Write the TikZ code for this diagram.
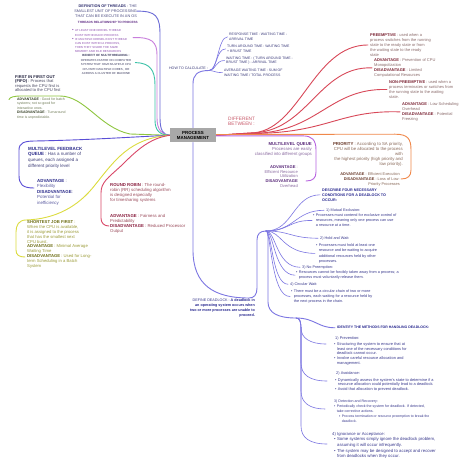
\documentclass[tikz,border=0pt]{standalone}
\usepackage{fontspec}
\setmainfont{Liberation Sans}
\usetikzlibrary{backgrounds}
\newcommand\fz[2]{\fontsize{#1}{#2}\selectfont}
\newcommand\blist[1]{\begin{tabular}{@{}l@{\hspace{1.4pt}}l@{}}#1\end{tabular}}
\definecolor{lThr}{HTML}{6B6BD6}
\definecolor{lPur}{HTML}{C87EDC}
\definecolor{lTeal}{HTML}{3CC2A8}
\definecolor{lGreen}{HTML}{8FC640}
\definecolor{lMLFQ}{HTML}{5A4ED6}
\definecolor{lYel}{HTML}{DCDC40}
\definecolor{lRR}{HTML}{D94868}
\definecolor{lDiff}{HTML}{D84858}
\definecolor{lOra}{HTML}{F0884A}
\definecolor{lMLQ}{HTML}{B864E0}
\definecolor{lDL}{HTML}{7C76E2}
\definecolor{cGray}{HTML}{A8A8A8}
\definecolor{tNavy}{HTML}{2E2E6E}
\definecolor{tNavyL}{HTML}{4A4A80}
\definecolor{tPurD}{HTML}{5E2A84}
\definecolor{tPur}{HTML}{8E4FB0}
\definecolor{tBen}{HTML}{3A3A5E}
\definecolor{tFifoB}{HTML}{22223E}
\definecolor{tFifo}{HTML}{4A4A62}
\definecolor{tGrnB}{HTML}{2F3A1F}
\definecolor{tGrn}{HTML}{6E7A55}
\definecolor{tMlfqB}{HTML}{2A2A8A}
\definecolor{tMlfq}{HTML}{3E3E78}
\definecolor{tMlfqL}{HTML}{5A5AA0}
\definecolor{tSjfB}{HTML}{6B6B10}
\definecolor{tSjf}{HTML}{9A9A35}
\definecolor{tRrB}{HTML}{8A1F3F}
\definecolor{tRr}{HTML}{9A4A5A}
\definecolor{tDiffH}{HTML}{C85868}
\definecolor{tDiffB}{HTML}{7A2232}
\definecolor{tDiff}{HTML}{8A6A6A}
\definecolor{tPriB}{HTML}{6A3A2A}
\definecolor{tPri}{HTML}{8A6A5A}
\definecolor{tMlqB}{HTML}{5A2A7A}
\definecolor{tMlq}{HTML}{8A6AA0}
\definecolor{tHow}{HTML}{3A3A7A}
\definecolor{tDLB}{HTML}{26268E}
\definecolor{tDL}{HTML}{3A3A8E}
\begin{document}
\begin{tikzpicture}[x=1pt,y=-1pt,
  tx/.style={inner sep=0pt, anchor=north west, align=left},
  txr/.style={inner sep=0pt, anchor=north east, align=right},
  txc/.style={inner sep=0pt, anchor=north, align=center},
  br/.style={line width=0.9pt, line cap=round},
  sb/.style={line width=0.6pt, line cap=round},
  pmbox/.style={fill=cGray, minimum width=46pt, minimum height=14pt, inner sep=0pt, align=center, font=\fz{4.4}{5.5}\bfseries}]
\useasboundingbox (0,0) rectangle (474,465);

% ---------- text nodes ----------
\node[pmbox] (pm) at (193,135.3) {PROCESS\\MANAGEMENT};

\node[txr, font=\fz{3.8}{4.6}, text=tNavyL] (defthr) at (137,5) {\textcolor{tNavy}{\textbf{DEFINITION OF THREADS}} : THE\\SMALLEST UNIT OF PROCESSING\\THAT CAN BE EXECUTE IN AN OS};
\node[txr, font=\fz{3.1}{4}\bfseries, text=tPurD] (thrrel) at (138,21.5) {THREADS RELATIONSHIP TO PROCESS};
\node[tx, font=\fz{2.9}{4.2}, text=tPur] (thrb) at (72,28.8) {\blist{{\fz{4.5}{4.2}•}&AT LEAST ONE KERNEL THREAD\\&EXIST WITHIN EACH PROCESS\\{\fz{4.5}{4.2}•}&IF MULTIPLE KERNEL EXIST THREAD\\&CAN EXIST WITHIN A PROCESS,\\&THEN THEY SHARE THE SAME\\&MEMORY AND FILE RESOURCES}};
\node[txc, font=\fz{2.9}{4.5}, text=tBen] (ben) at (106,54.3) {\textbf{\fz{3}{4.5}BENEFIT OF MULTITHREADING :}\\OPERATES FASTER ON COMPUTER\\SYSTEM THAT HAVE MULTIPLE CPU\\CPU WITH MULTIPLE CORES , OR\\ACROSS A CLUSTER OF MACHINE};

\node[tx, font=\fz{4.1}{4.6}, text=tFifo] (fifo) at (15,75) {\textcolor{tFifoB}{\textbf{FIRST IN FIRST OUT}}\\\textcolor{tFifoB}{\textbf{(FIFO)}} : Process that\\requests the CPU first is\\allocated to the CPU first};
\node[tx, font=\fz{3.5}{4.6}, text=tGrn] (fifoadv) at (17,97.3) {\textcolor{tGrnB}{\textbf{ADVANTAGE}} : Good for batch\\systems; not so good for\\interactive ones.\\\textcolor{tGrnB}{\textbf{DISADVANTAGE}} : Turnaround\\time is unpredictable.};

\node[tx, font=\fz{4.5}{5.7}, text=tMlfq] (mlfq) at (28,146.8) {\textcolor{tMlfqB}{\textbf{MULTILEVEL FEEDBACK}}\\\textcolor{tMlfqB}{\textbf{QUEUE}} : Has a number of\\queues, each assigned a\\different priority level};
\node[tx, font=\fz{4.4}{5.5}, text=tMlfqL] (mlfqadv) at (37,179) {\textcolor{tMlfqB}{\textbf{ADVANTAGE}} :\\Flexibility\\\textcolor{tMlfqB}{\textbf{DISADVANTAGE}}:\\Potential for\\inefficiency};

\node[tx, font=\fz{4.2}{4.9}, text=tSjf] (sjf) at (27,220.3) {\textcolor{tSjfB}{\textbf{SHORTEST JOB FIRST}} :\\When the CPU is available,\\it is assigned to the process\\that has the smallest next\\CPU burst.\\\textcolor{tSjfB}{\textbf{ADVANTAGE}} : Minimal Average\\Waiting Time\\\textcolor{tSjfB}{\textbf{DISADVANTAGE}} : Used for Long-\\term Scheduling in a Batch\\System};

\node[tx, font=\fz{4.3}{5}, text=tRr] (rr) at (110,183) {\textcolor{tRrB}{\textbf{ROUND ROBIN}} : The round-\\robin (RR) scheduling algorithm\\is designed especially\\for timesharing systems};
\node[tx, font=\fz{4.3}{5}, text=tRr] (rradv) at (110,214) {\textcolor{tRrB}{\textbf{ADVANTAGE}} : Fairness and\\Predictability\\\textcolor{tRrB}{\textbf{DISADVANTAGE}} : Reduced Processor\\Output};

\node[txr, font=\fz{3.6}{4.4}, text=tHow] (how) at (208,66.3) {HOW TO CALCULATE :};
\node[tx, font=\fz{3.5}{4.4}, text=tHow] (f1) at (229,33.3) {RESPONSE TIME : WAITING TIME -\\ARRIVAL TIME};
\node[tx, font=\fz{3.5}{4.4}, text=tHow] (f2) at (227,45.3) {TURN AROUND TIME : WAITING TIME\\+ BRUST TIME};
\node[tx, font=\fz{3.5}{4.4}, text=tHow] (f3) at (226,56.5) {WAITING TIME : ( TURN AROUND TIME -\\BRUST TIME ) - ARRIVAL TIME};
\node[tx, font=\fz{3.5}{4.4}, text=tHow] (f4) at (224,69) {AVERAGE WAITING TIME : SUM OF\\WAITING TIME / TOTAL PROCESS};

\node[tx, font=\fz{4.8}{5.8}, text=tDiffH] (diff) at (228,116.5) {DIFFERENT\\BETWEEN :};
\node[tx, font=\fz{4}{5}, text=tDiff] (pre) at (370,33.3) {\textcolor{tDiffB}{\textbf{PREEMPTIVE}} : used when a\\process switches from the running\\state to the ready state or from\\the waiting state to the ready\\state};
\node[tx, font=\fz{4}{5}, text=tDiff] (preadv) at (374,58.3) {\textcolor{tDiffB}{\textbf{ADVANTAGE}} : Prevention of CPU\\Monopolization\\\textcolor{tDiffB}{\textbf{DISADVANTAGE}} : Limited\\Computational Resources};
\node[tx, font=\fz{4}{5}, text=tDiff] (npre) at (389,80.3) {\textcolor{tDiffB}{\textbf{NON-PREEMPTIVE}} : used when a\\process terminates or switches from\\the running state to the waiting\\state.};
\node[tx, font=\fz{4}{5}, text=tDiff] (npreadv) at (402,102.3) {\textcolor{tDiffB}{\textbf{ADVANTAGE}} : Low Scheduling\\Overhead\\\textcolor{tDiffB}{\textbf{DISADVANTAGE}} : Potential\\Freezing};

\node[txr, font=\fz{4.3}{5}, text=tPri] (prio) at (403,141.8) {\textcolor{tPriB}{\textbf{PRIORITY}} : According to SA priority,\\CPU will be allocated to the process\\with\\the highest priority (high priority and\\low priority).};
\node[txr, font=\fz{3.9}{5}, text=tPri] (prioadv) at (400,172.3) {\textcolor{tPriB}{\textbf{ADVANTAGE}} : Efficient Execution\\\textcolor{tPriB}{\textbf{DISADVANTAGE}} : Loss of Low-\\Priority Processes};

\node[txr, font=\fz{4.3}{5}, text=tMlq] (mlq) at (312,142.3) {\textcolor{tMlqB}{\textbf{MULTILEVEL QUEUE}}\\Processes are easily\\classified into different groups};
\node[txr, font=\fz{4.1}{4.8}, text=tMlq] (mlqadv) at (298,165.3) {\textcolor{tMlqB}{\textbf{ADVANTAGE}} :\\Efficient Resource\\Utilization\\\textcolor{tMlqB}{\textbf{DISADVANTAGE}}\\Overhead};

\node[txr, font=\fz{3.7}{5.1}, text=tDLB] (dd) at (255,298.3) {\textcolor{tDL}{DEFINE DEADLOCK :} \textbf{A deadlock in}\\\textbf{an operating system occurs when}\\\textbf{two or more processes are unable to}\\\textbf{proceed.}};

\node[tx, font=\fz{3.7}{5}\bfseries, text=tDLB] (desc) at (322,188.3) {DESCRIBE FOUR NECESSARY\\CONDITIONS FOR A DEADLOCK TO\\OCCUR:};
\node[tx, font=\fz{3.8}{5}, text=tDL] (c1) at (326,208.3) {1) Mutual Exclusion:};
\node[tx, font=\fz{3.8}{5}, text=tDL] (c1b) at (313,212.8) {\blist{•&Processes must contend for exclusive control of\\&resources, meaning only one process can use\\&a resource at a time.}};
\node[tx, font=\fz{3.8}{5}, text=tDL] (c2) at (320,236.3) {2) Hold and Wait:};
\node[tx, font=\fz{3.8}{5.2}, text=tDL] (c2b) at (316,242.8) {\blist{•&Processes must hold at least one\\&resource and be waiting to acquire\\&additional resources held by other\\&processes.}};
\node[tx, font=\fz{3.8}{5}, text=tDL] (c3) at (302,265.3) {3) No Preemption:};
\node[tx, font=\fz{3.8}{5.2}, text=tDL] (c3b) at (296,269.8) {\blist{•&Resources cannot be forcibly taken away from a process; a\\&process must voluntarily release them.}};
\node[tx, font=\fz{3.8}{5}, text=tDL] (c4) at (290,282.3) {4) Circular Wait:};
\node[tx, font=\fz{3.8}{5}, text=tDL] (c4b) at (291,288.8) {\blist{•&There must be a circular chain of two or more\\&processes, each waiting for a resource held by\\&the next process in the chain.}};

\node[tx, font=\fz{3.5}{5}\bfseries, text=tDLB] (ident) at (337,326.3) {IDENTIFY THE METHODS FOR HANDLING DEADLOCK:};
\node[tx, font=\fz{3.9}{4.9}, text=tDL] (m1) at (335,336.3) {1) Prevention:};
\node[tx, font=\fz{3.9}{4.8}, text=tDL] (m1b) at (334,341.8) {\blist{•&Structuring the system to ensure that at\\&least one of the necessary conditions for\\&deadlock cannot occur.\\•&Involve careful resource allocation and\\&management.}};
\node[tx, font=\fz{3.9}{4.9}, text=tDL] (m2) at (336,371.3) {2) Avoidance:};
\node[tx, font=\fz{3.9}{4.6}, text=tDL] (m2b) at (335,377.8) {\blist{•&Dynamically assess the system's state to determine if a\\&resource allocation could potentially lead to a deadlock.\\•&Avoid that allocation to prevent deadlock.}};
\node[tx, font=\fz{3.6}{4.9}, text=tDL] (m3) at (334,399.3) {3) Detection and Recovery:};
\node[tx, font=\fz{3.6}{4.9}, text=tDL] (m3b) at (334,403.8) {\blist{•&Periodically check the system for deadlock. If detected,\\&take corrective actions.}};
\node[tx, font=\fz{3.5}{4.9}, text=tDL] (m3c) at (339,413.8) {\blist{▪&Process termination or resource preemption to break the\\&deadlock.}};
\node[tx, font=\fz{4.2}{5.2}, text=tDL] (m4) at (332,432.3) {4) Ignorance or Acceptance:};
\node[tx, font=\fz{4.3}{5.6}, text=tDL] (m4b) at (334,436.8) {\blist{•&Some systems simply ignore the deadlock problem,\\&assuming it will occur infrequently.\\•&The system may be designed to accept and recover\\&from deadlocks when they occur.}};

% ---------- named free ends / hubs ----------
\coordinate (mlfqEnd) at (34,188);
\coordinate (fifoEnd) at (9,99.5);
\coordinate (sjfEnd) at (25,257);
\coordinate (rrEnd) at (109,226);
\coordinate (prioEnd) at (401,179);
\coordinate (mlqEnd) at (306,181);
\coordinate (hub1) at (209,70.5);
\coordinate (H) at (266,231);
\coordinate (M) at (296,318);
\coordinate (mE1) at (326,344);
\coordinate (mE2) at (327,381);
\coordinate (mE3) at (325,409);
\coordinate (mE4) at (327,444);

% ---------- connectors, behind the nodes ----------
\begin{scope}[on background layer]
\fill[white] (0,0) rectangle (474,465);
\draw[br, lThr] (defthr.east) .. controls (156,11) and (160,16) .. (160,35) -- (160,118) .. controls (160,130) and (163,135) .. (pm.west);
\draw[br, lPur] ([xshift=6pt,yshift=4pt]thrb.east) .. controls (152,37) and (157,42) .. (157,55) -- (157,118) .. controls (157,130) and (162,135) .. (pm.west);
\draw[br, lTeal] ([xshift=4pt,yshift=2pt]ben.east) .. controls (150,63) and (155,70) .. (155,85) -- (155,120) .. controls (155,131) and (160,135) .. (pm.west);
\draw[br, lGreen] (fifoEnd) .. controls (10,97) and (14,96) .. (22,96) -- (60,96) .. controls (85,96) and (100,128) .. (130,134) -- (pm.west);
\draw[br, lMLFQ] (mlfqEnd) .. controls (22,188) and (19,184) .. (19,175) -- (19,150) .. controls (19,143) and (24,141) .. (35,141) .. controls (90,140) and (130,137) .. (pm.west);
\draw[br, lYel] (pm.west) .. controls (130,138) and (115,160) .. (95,185) .. controls (78,207) and (55,219) .. (26,220) .. controls (19,220) and (16,225) .. (16,232) -- (16,250) .. controls (16,255) and (19,257) .. (sjfEnd);
\draw[br, lRR] (pm.west) .. controls (150,138) and (137,150) .. (122,165) .. controls (108,178) and (101,182) .. (101,193) -- (101,218) .. controls (101,223) and (104,226) .. (rrEnd);

\draw[br, lDL] (pm.north) -- (193,84) .. controls (193,75) and (197,70.5) .. (hub1);
\draw[sb, lDL] (hub1) .. controls (218,70.5) and (218,37) .. ([xshift=-1.5pt]f1.west);
\draw[sb, lDL] (hub1) .. controls (217,70.5) and (216,49) .. ([xshift=-1.5pt]f2.west);
\draw[sb, lDL] (hub1) .. controls (216,70.5) and (215,60.5) .. ([xshift=-1.5pt]f3.west);
\draw[sb, lDL] (hub1) .. controls (214,70.5) and (214,72.5) .. ([xshift=-1.5pt]f4.west);

\draw[br, lDiff] (pm.east) -- (250,133) .. controls (300,133) and (312,45) .. ([xshift=-2pt]pre.west);
\draw[br, lDiff] (pm.east) -- (250,133) .. controls (308,133) and (318,66) .. ([xshift=-2pt]preadv.west);
\draw[br, lDiff] (pm.east) -- (250,133.5) .. controls (318,133.5) and (328,88) .. ([xshift=-2pt]npre.west);
\draw[br, lDiff] (pm.east) -- (250,133.5) .. controls (328,133.5) and (338,110) .. ([xshift=-2pt]npreadv.west);

\draw[br, lOra] ([yshift=0.8pt]pm.east) -- (395,134.2) .. controls (408,134.2) and (411,139) .. (411,150) -- (411,170) .. controls (411,176) and (408,179) .. (prioEnd);
\draw[br, lMLQ] ([yshift=-0.6pt]pm.east) -- (303,135.9) .. controls (312,135.9) and (316,140) .. (316,150) -- (316,172) .. controls (316,178) and (313,181) .. (mlqEnd);

\draw[br, lDL] (pm.south) -- (193,250) .. controls (193,285) and (214,298) .. (249,298) .. controls (254,298) and (257,295) .. (257,288) -- (257,240) .. controls (257,234) and (260,231) .. (H);
\draw[sb, lDL] (H) .. controls (293,231) and (293,195) .. ([xshift=-2pt]desc.west);
\draw[sb, lDL] (H) .. controls (295,231) and (295,210.5) .. ([xshift=-2pt]c1.west);
\draw[sb, lDL] (H) .. controls (289,231) and (289,220) .. ([xshift=-1pt]c1b.west);
\draw[sb, lDL] (H) .. controls (290,231) and (290,238) .. ([xshift=-2pt]c2.west);
\draw[sb, lDL] (H) .. controls (282,231) and (282,253) .. ([xshift=-1pt]c2b.west);
\draw[sb, lDL] (H) .. controls (276,231) and (276,267) .. ([xshift=-2pt]c3.west);
\draw[sb, lDL] (H) .. controls (274,231) and (274,275) .. ([xshift=-1pt]c3b.west);
\draw[sb, lDL] (H) .. controls (272,231) and (272,284) .. ([xshift=-2pt]c4.west);
\draw[sb, lDL] (H) .. controls (271,231) and (271,297) .. ([xshift=-1pt]c4b.west);

\draw[br, lDL] (H) .. controls (268,231) and (268,234) .. (268,241) -- (268,302) .. controls (268,313) and (278,318) .. (M) .. controls (315,318) and (318,328) .. ([xshift=-2pt]ident.west);
\draw[sb, lDL] (M) .. controls (300,318) and (301,322) .. (301,328) .. controls (301,338) and (310,344) .. (mE1);
\draw[sb, lDL] (M) .. controls (300,318) and (301,322) .. (301,330) -- (301,363) .. controls (301,375) and (310,381) .. (mE2);
\draw[sb, lDL] (M) .. controls (300,318) and (301,322) .. (301,330) -- (301,391) .. controls (301,403) and (310,409) .. (mE3);
\draw[sb, lDL] (M) .. controls (300,318) and (301,322) .. (301,330) -- (301,426) .. controls (301,438) and (310,444) .. (mE4);
\end{scope}
\end{tikzpicture}
\end{document}
